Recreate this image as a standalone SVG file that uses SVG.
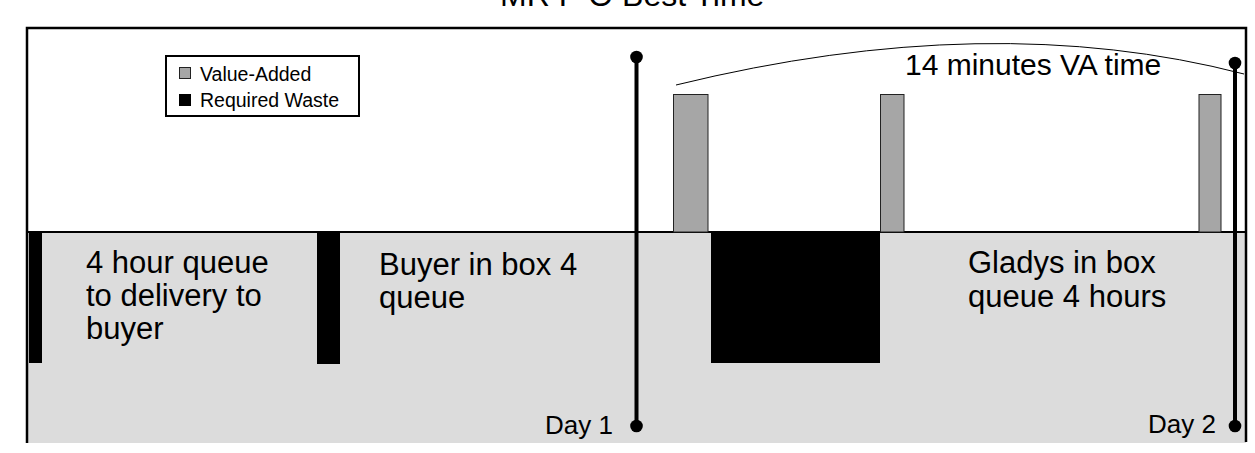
<svg xmlns="http://www.w3.org/2000/svg" width="1255" height="453" viewBox="0 0 1255 453">
<style>
text{font-family:"Liberation Sans",Arial,sans-serif;fill:#000}
.big{font-size:31px}
.vat{font-size:30px}
.day{font-size:26px}
.leg{font-size:19.5px}
.va{fill:#a6a6a6;stroke:#222;stroke-width:1}
.rw{fill:#000}
.tl{stroke:#000;stroke-width:4;fill:none}
</style>
<rect x="0" y="0" width="1255" height="453" fill="#fff"/>
<g id="title"><text x="500" y="5.5" style="font-size:32px">MR P O Best Time</text></g>
<g id="frame">
<rect x="27" y="232" width="1219" height="211" fill="#dcdcdc"/>
<path d="M27,443 V28 H1246 V442" fill="none" stroke="#000" stroke-width="2.5"/>
<line x1="27" y1="232" x2="1246" y2="232" stroke="#000" stroke-width="2.2"/>
</g>
<g id="legend">
<rect x="166" y="56" width="193" height="60" fill="#fff" stroke="#000" stroke-width="2"/>
<rect x="179.5" y="67.5" width="11" height="11" class="va"/>
<rect x="179" y="94" width="12" height="12" class="rw"/>
<text x="200" y="81" class="leg">Value-Added</text>
<text x="200" y="107" class="leg">Required Waste</text>
</g>
<g id="waste1"><rect x="29" y="232" width="13" height="131" class="rw"/></g>
<g id="waste2"><rect x="317" y="232" width="23" height="132" class="rw"/></g>
<g id="waste3"><rect x="711" y="232" width="169" height="131" class="rw"/></g>
<g id="va1"><rect x="673.5" y="94.5" width="34.5" height="137.5" class="va"/></g>
<g id="va2"><rect x="880.5" y="94.5" width="23.5" height="137.5" class="va"/></g>
<g id="va3"><rect x="1199" y="94.5" width="22" height="137.5" class="va"/></g>
<g id="label-queue1">
<text x="86" y="273" class="big">4 hour queue</text>
<text x="86" y="306" class="big">to delivery to</text>
<text x="86" y="339" class="big">buyer</text>
</g>
<g id="label-queue2">
<text x="379" y="275" class="big">Buyer in box 4</text>
<text x="379" y="308" class="big">queue</text>
</g>
<g id="label-queue3">
<text x="968" y="273" class="big">Gladys in box</text>
<text x="968" y="307" class="big">queue 4 hours</text>
</g>
<g id="label-va"><text x="905" y="75" class="vat">14 minutes VA time</text></g>
<g id="connectors">
<path d="M676,85 Q990,8 1244,74" fill="none" stroke="#000" stroke-width="1"/>
<line x1="636.5" y1="57" x2="636.5" y2="426" class="tl"/>
<circle cx="636.5" cy="57" r="6.3"/>
<circle cx="636.5" cy="426" r="6.3"/>
<line x1="1235" y1="63" x2="1235" y2="426" class="tl"/>
<circle cx="1235" cy="63" r="6.3"/>
<circle cx="1235" cy="426" r="6.3"/>
</g>
<g id="day-labels">
<text x="545" y="434" class="day">Day 1</text>
<text x="1148" y="433" class="day">Day 2</text>
</g>
</svg>
